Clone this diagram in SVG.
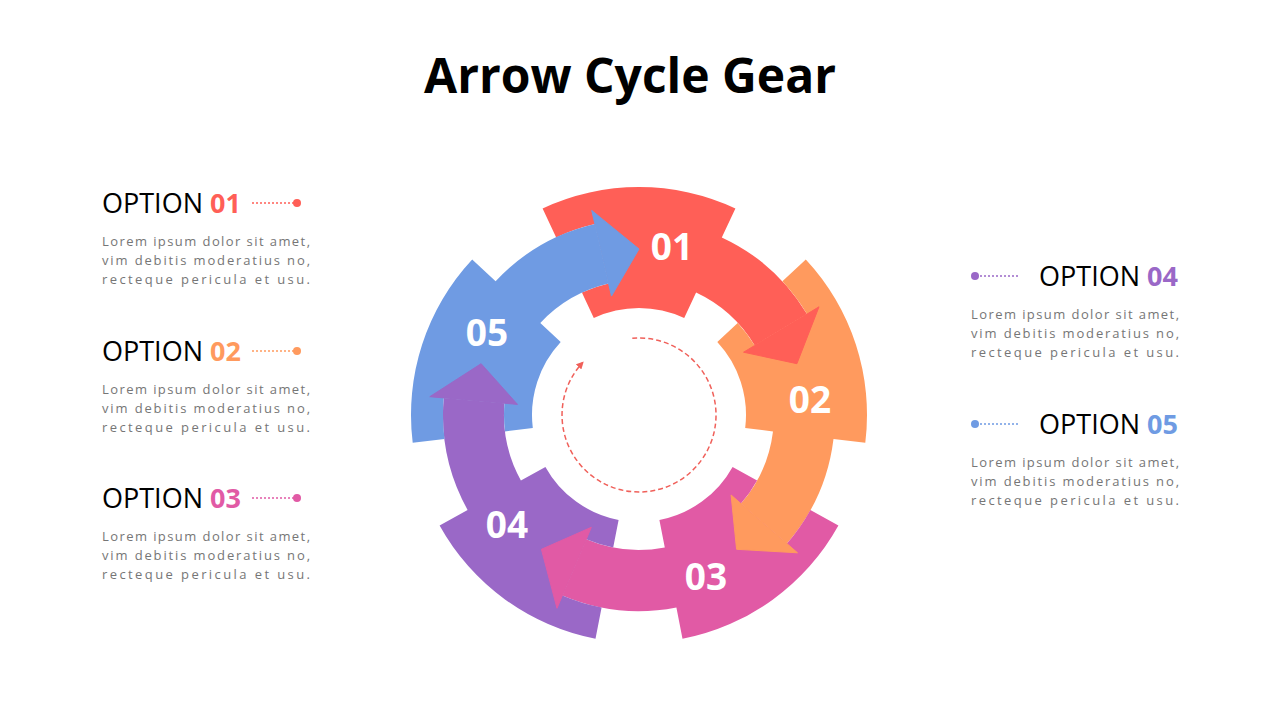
<svg xmlns="http://www.w3.org/2000/svg" width="1280" height="720" viewBox="0 0 1280 720">
<style>
.t{font-family:"Open Sans","Liberation Sans",sans-serif}
.title{font-size:48px;font-weight:bold;fill:#000}
.num{font-size:37px;font-weight:bold;fill:#fff}
.opt{font-size:27px;fill:#000}
.b{font-weight:bold}
.body{font-size:13px;fill:#767676}
.c1{fill:#FF5F57}.c2{fill:#FF9A5E}.c3{fill:#E15AA5}.c4{fill:#9A68C7}.c5{fill:#6F9BE3}
.s1{stroke:#FF5F57}.s2{stroke:#FF9A5E}.s3{stroke:#E15AA5}.s4{stroke:#9A68C7}.s5{stroke:#6F9BE3}
.dot{stroke-width:1.5;stroke-dasharray:2 2;fill:none}
.ah{stroke-width:1;stroke-linejoin:round}
</style>
<defs>
<marker id="m" viewBox="0 0 10 10" refX="8" refY="5" markerWidth="5" markerHeight="5" orient="auto"><path d="M0,0 L10,5 L0,10 Z" fill="#F0605A"/></marker>
</defs>
<rect width="1280" height="720" fill="#fff"/>
<text class="t title" x="630" y="93" text-anchor="middle">Arrow Cycle Gear</text>

<g id="node01">
<path class="c1" d="M542.6,208.4 A228,228 0 0 1 735.4,208.4 L721.8,237.4 A196,196 0 0 1 807,314.1 L754.7,345.5 A135,135 0 0 0 696.1,292.6 L684.2,318 A107,107 0 0 0 593.8,318 L581.9,292.6 A135,135 0 0 1 608.6,283.5 L594.9,224 A196,196 0 0 0 556.2,237.4 Z"/>
<text class="t num" x="672" y="260" text-anchor="middle">01</text>
</g>
<g id="node02">
<path class="c2" d="M805.8,259.5 A228,228 0 0 1 865.3,442.8 L833.5,438.9 A196,196 0 0 1 786.9,543.6 L740.9,503.6 A135,135 0 0 0 773,431.5 L745.2,428 A107,107 0 0 0 717.3,342 L737.7,322.9 A135,135 0 0 1 754.7,345.5 L807,314.1 A196,196 0 0 0 782.4,281.3 Z"/>
<text class="t num" x="810" y="413" text-anchor="middle">02</text>
</g>
<g id="node03">
<path class="c3" d="M838.4,525.5 A228,228 0 0 1 682.5,638.8 L676.4,607.4 A196,196 0 0 1 562.4,595.4 L586.3,539.3 A135,135 0 0 0 664.8,547.5 L659.4,520 A107,107 0 0 0 732.6,466.9 L757.1,480.4 A135,135 0 0 1 740.9,503.6 L786.9,543.6 A196,196 0 0 0 810.4,510 Z"/>
<text class="t num" x="706" y="590" text-anchor="middle">03</text>
</g>
<g id="node04">
<path class="c4" d="M595.5,638.8 A228,228 0 0 1 439.6,525.5 L467.6,510 A196,196 0 0 1 443.7,397.9 L504.5,403.2 A135,135 0 0 0 520.9,480.4 L545.4,466.9 A107,107 0 0 0 618.6,520 L613.2,547.5 A135,135 0 0 1 586.3,539.3 L562.4,595.4 A196,196 0 0 0 601.6,607.4 Z"/>
<text class="t num" x="507" y="538" text-anchor="middle">04</text>
</g>
<g id="node05">
<path class="c5" d="M412.7,442.8 A228,228 0 0 1 472.2,259.5 L495.6,281.3 A196,196 0 0 1 594.9,224 L608.6,283.5 A135,135 0 0 0 540.3,322.9 L560.7,342 A107,107 0 0 0 532.8,428 L505,431.5 A135,135 0 0 1 504.5,403.2 L443.7,397.9 A196,196 0 0 0 444.5,438.9 Z"/>
<text class="t num" x="487" y="346" text-anchor="middle">05</text>
</g>

<g id="connectors">
<path class="c1 s1 ah" d="M807,314.1 L819,306.8 L796.9,363.7 L743.6,352.2 L754.7,345.5 Z"/>
<path class="c2 s2 ah" d="M786.9,543.6 L797.5,552.8 L736.6,549.3 L731.1,495 L740.9,503.6 Z"/>
<path class="c3 s3 ah" d="M562.4,595.4 L557,608.3 L541.4,549.3 L591.3,527.3 L586.3,539.3 Z"/>
<path class="c4 s4 ah" d="M443.7,397.9 L429.8,396.7 L481.1,363.7 L517.5,404.4 L504.5,403.2 Z"/>
<path class="c5 s5 ah" d="M594.9,224 L591.7,210.4 L639,249 L611.5,296.1 L608.6,283.5 Z"/>
<path d="M632.3,338.3 A77,77 0 1 1 582.7,362.5" fill="none" stroke="#F0605A" stroke-width="1.5" stroke-dasharray="5 3" marker-end="url(#m)"/>
<line class="dot s1" x1="252" y1="203" x2="296" y2="203"/><circle cx="297" cy="203" r="4" class="c1"/>
<line class="dot s2" x1="252" y1="351" x2="296" y2="351"/><circle cx="297" cy="351" r="4" class="c2"/>
<line class="dot s3" x1="252" y1="498" x2="296" y2="498"/><circle cx="297" cy="498" r="4" class="c3"/>
<line class="dot s4" x1="976" y1="276" x2="1019" y2="276"/><circle cx="975" cy="276" r="4" class="c4"/>
<line class="dot s5" x1="976" y1="424" x2="1019" y2="424"/><circle cx="975" cy="424" r="4" class="c5"/>
</g>

<g id="opt01">
<text class="t opt" x="102" y="213">OPTION <tspan class="b c1">01</tspan></text>
<text class="t body" x="102" y="246" textLength="208" lengthAdjust="spacing">Lorem ipsum dolor sit amet,</text>
<text class="t body" x="102" y="265" textLength="208" lengthAdjust="spacing">vim debitis moderatius no,</text>
<text class="t body" x="102" y="284" textLength="208" lengthAdjust="spacing">recteque pericula et usu.</text>
</g>
<g id="opt02">
<text class="t opt" x="102" y="361">OPTION <tspan class="b c2">02</tspan></text>
<text class="t body" x="102" y="394" textLength="208" lengthAdjust="spacing">Lorem ipsum dolor sit amet,</text>
<text class="t body" x="102" y="413" textLength="208" lengthAdjust="spacing">vim debitis moderatius no,</text>
<text class="t body" x="102" y="432" textLength="208" lengthAdjust="spacing">recteque pericula et usu.</text>
</g>
<g id="opt03">
<text class="t opt" x="102" y="508">OPTION <tspan class="b c3">03</tspan></text>
<text class="t body" x="102" y="541" textLength="208" lengthAdjust="spacing">Lorem ipsum dolor sit amet,</text>
<text class="t body" x="102" y="560" textLength="208" lengthAdjust="spacing">vim debitis moderatius no,</text>
<text class="t body" x="102" y="579" textLength="208" lengthAdjust="spacing">recteque pericula et usu.</text>
</g>
<g id="opt04">
<text class="t opt" x="1178" y="286" text-anchor="end">OPTION <tspan class="b c4">04</tspan></text>
<text class="t body" x="971" y="319" textLength="208" lengthAdjust="spacing">Lorem ipsum dolor sit amet,</text>
<text class="t body" x="971" y="338" textLength="208" lengthAdjust="spacing">vim debitis moderatius no,</text>
<text class="t body" x="971" y="357" textLength="208" lengthAdjust="spacing">recteque pericula et usu.</text>
</g>
<g id="opt05">
<text class="t opt" x="1178" y="434" text-anchor="end">OPTION <tspan class="b c5">05</tspan></text>
<text class="t body" x="971" y="467" textLength="208" lengthAdjust="spacing">Lorem ipsum dolor sit amet,</text>
<text class="t body" x="971" y="486" textLength="208" lengthAdjust="spacing">vim debitis moderatius no,</text>
<text class="t body" x="971" y="505" textLength="208" lengthAdjust="spacing">recteque pericula et usu.</text>
</g>
</svg>
